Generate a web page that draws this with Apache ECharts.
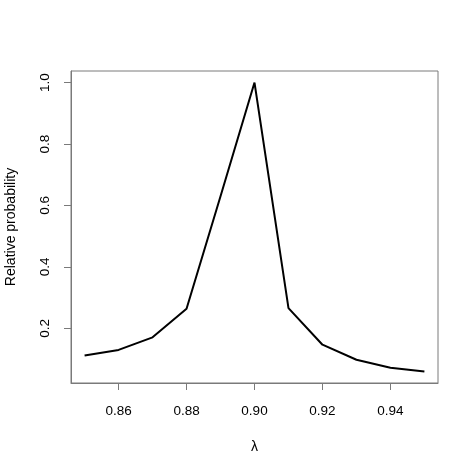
<!DOCTYPE html>
<html>
<head>
<meta charset="utf-8">
<script src="https://cdn.jsdelivr.net/npm/echarts@6/dist/echarts.min.js"></script>
<style>
html,body{margin:0;padding:0;background:#fff;}
#c{width:474px;height:463px;}
</style>
</head>
<body>
<div id="c"></div>
<script>
var lambdaValues = [0.85, 0.86, 0.87, 0.88, 0.89, 0.90, 0.91, 0.92, 0.93, 0.94, 0.95];
var relProb = [0.112, 0.130, 0.171, 0.264, 0.630, 1.000, 0.266, 0.147, 0.098, 0.072, 0.060];
var xTicks = [0.86, 0.88, 0.90, 0.92, 0.94];
var yTicks = [0.2, 0.4, 0.6, 0.8, 1.0];

// R-style 4% axis extension
var xmin = Math.min.apply(null, lambdaValues), xmax = Math.max.apply(null, lambdaValues);
var ymin = Math.min.apply(null, relProb), ymax = Math.max.apply(null, relProb);
var xe = (xmax - xmin) * 0.04, ye = (ymax - ymin) * 0.04;

var data = lambdaValues.map(function (x, i) { return [x, relProb[i]]; });
var font = 'Liberation Sans, Arial, sans-serif';
var boxColor = '#7a7a7a';

var chart = echarts.init(document.getElementById('c'));
chart.setOption({
  animation: false,
  backgroundColor: '#fff',
  grid: { left: 71, right: 36, top: 71, bottom: 80, containLabel: false, outerBoundsMode: 'none',
    show: true, borderColor: boxColor, borderWidth: 1, backgroundColor: 'transparent' },
  xAxis: {
    type: 'value', min: xmin - xe, max: xmax + xe,
    name: 'λ', nameLocation: 'middle', nameGap: 57,
    nameTextStyle: { fontFamily: font, fontSize: 14, color: '#000' },
    axisLine: { show: true, lineStyle: { color: boxColor, width: 1 } },
    axisTick: { show: true, length: 7, lineStyle: { color: boxColor }, customValues: xTicks },
    axisLabel: { fontFamily: font, fontSize: 13.5, color: '#000', margin: 21, customValues: xTicks,
      formatter: function (v) { return v.toFixed(2); } },
    splitLine: { show: false }
  },
  yAxis: {
    type: 'value', min: ymin - ye, max: ymax + ye,
    name: 'Relative probability', nameLocation: 'middle', nameGap: 53,
    nameTextStyle: { fontFamily: font, fontSize: 14, color: '#000' },
    axisLine: { show: true, lineStyle: { color: boxColor, width: 1 } },
    axisTick: { show: true, length: 7, lineStyle: { color: boxColor }, customValues: yTicks },
    axisLabel: { fontFamily: font, fontSize: 13.5, color: '#000', margin: 19, rotate: 90, customValues: yTicks,
      formatter: function (v) { return v.toFixed(1); } },
    splitLine: { show: false }
  },
  series: [{
    type: 'line', data: data, symbol: 'none',
    lineStyle: { color: '#000', width: 2 }
  }]
});
</script>
</body>
</html>
